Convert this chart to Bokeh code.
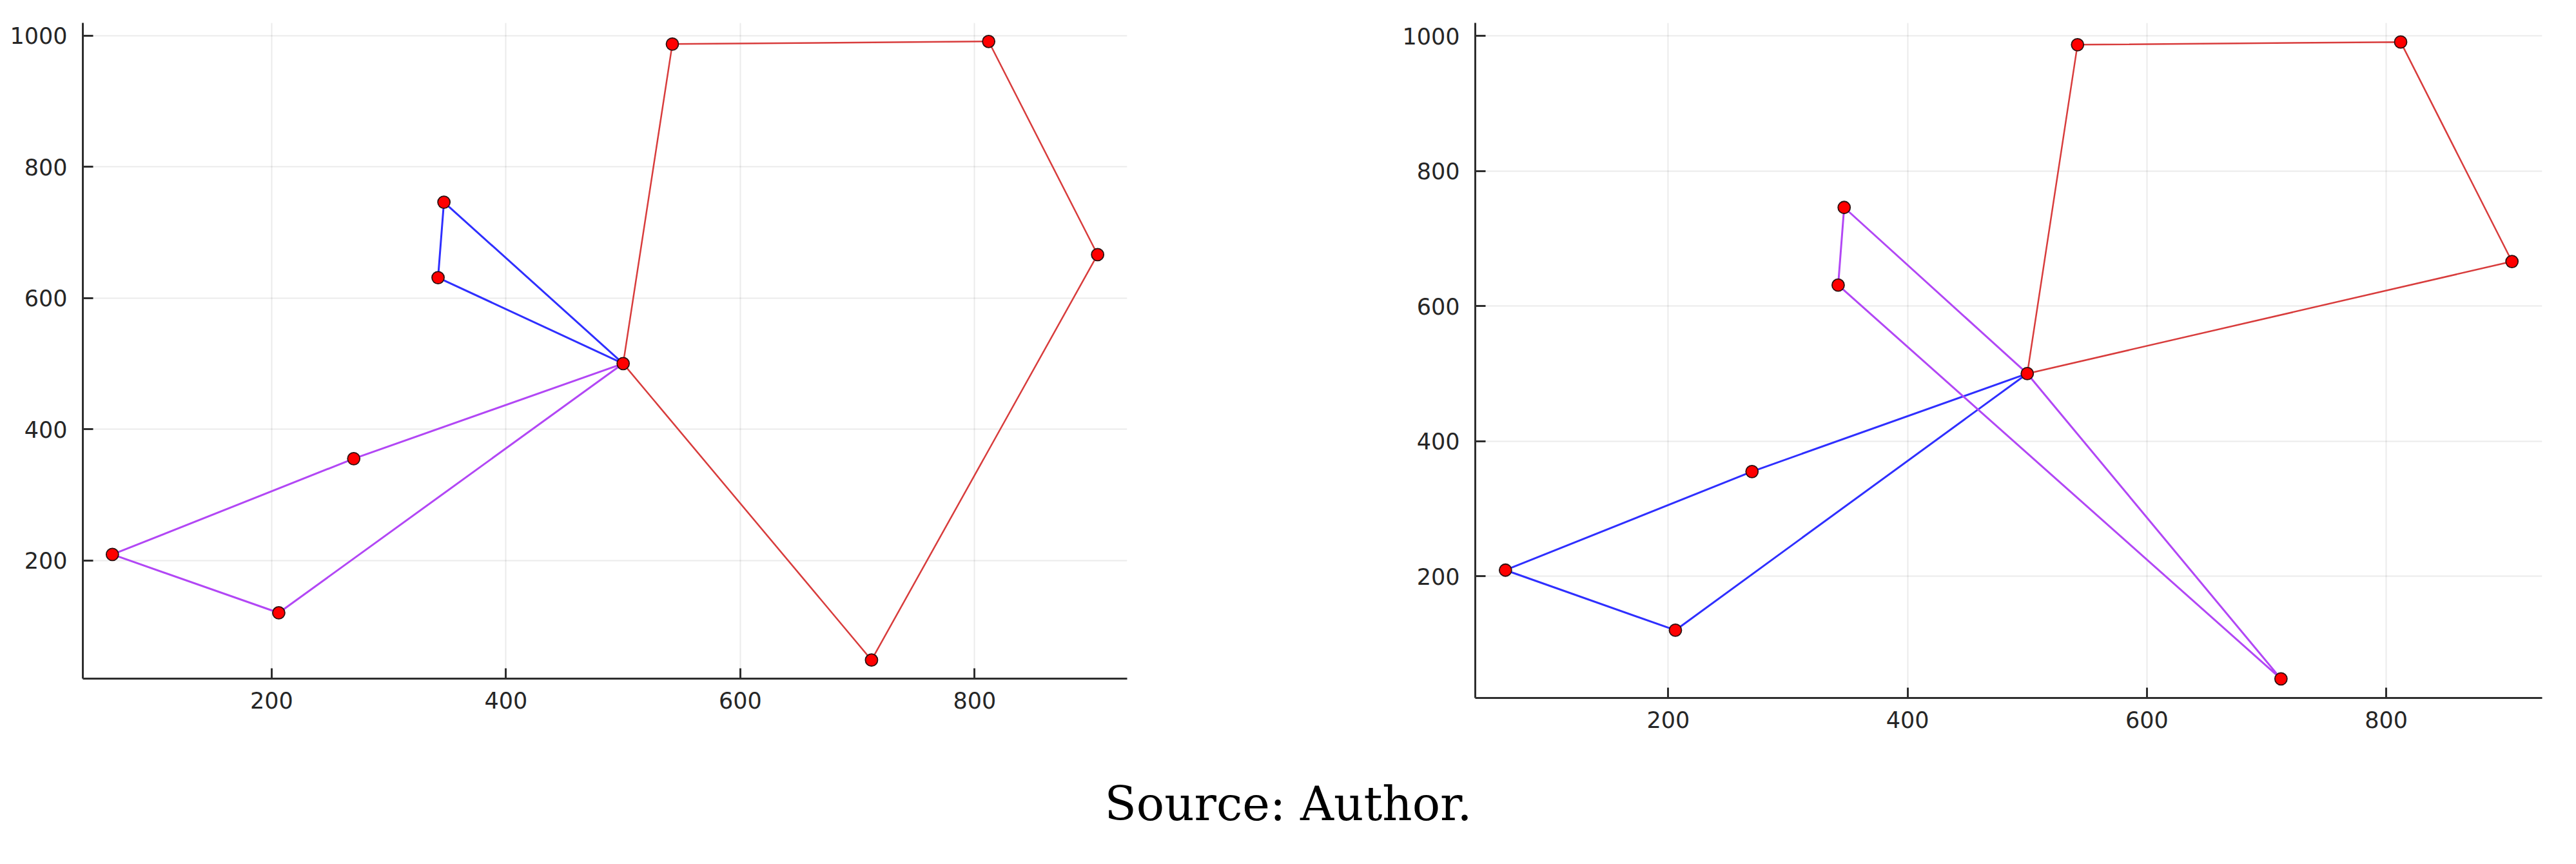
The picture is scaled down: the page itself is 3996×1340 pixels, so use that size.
from bokeh.plotting import figure
from bokeh.models import FixedTicker, Range1d, Label
from bokeh.layouts import row, column
from bokeh.embed import file_html
from bokeh.resources import INLINE

# ---- data: node coordinates (index 0 is the depot) ----
node_x = [500, 542, 812, 905, 712, 342, 347, 270, 64, 206]
node_y = [500, 987, 991, 666, 48, 631, 746, 355, 209, 120]

# routes as node-index sequences
left_red = [0, 1, 2, 3, 4, 0]
left_blue = [0, 5, 6, 0]
left_purple = [0, 7, 8, 9, 0]

right_red = [0, 1, 2, 3, 0]
right_blue = [0, 7, 8, 9, 0]
right_purple = [0, 6, 5, 4, 0]

x_ticks = [200, 400, 600, 800]
y_ticks = [200, 400, 600, 800, 1000]

caption = "Source: Author."

RED = "#d83c3c"
BLUE = "#2f2fff"
PURPLE = "#b247f5"


def padded(vals, frac=0.03):
    lo, hi = min(vals), max(vals)
    d = (hi - lo) * frac
    return lo - d, hi + d


def make_fig(frame_w, frame_h, top, right, bottom, routes):
    x0, x1 = padded(node_x)
    y0, y1 = padded(node_y)
    p = figure(width=128 + frame_w + right, height=top + frame_h + bottom,
               x_range=Range1d(x0, x1), y_range=Range1d(y0, y1),
               output_backend="svg", toolbar_location=None, title=None,
               min_border_left=128, min_border_right=right,
               min_border_top=top, min_border_bottom=bottom)
    p.outline_line_color = None
    p.background_fill_color = "white"
    p.border_fill_color = "white"
    for ax in (p.xaxis[0], p.yaxis[0]):
        ax.axis_line_color = "#2e2e2e"
        ax.axis_line_width = 3
        ax.major_tick_line_color = "#2e2e2e"
        ax.major_tick_line_width = 3
        ax.major_tick_in = 16
        ax.major_tick_out = 0
        ax.minor_tick_line_color = None
        ax.major_label_text_font = "DejaVu Sans"
        ax.major_label_text_font_size = "35px"
        ax.major_label_text_color = "#262626"
    p.xaxis[0].ticker = FixedTicker(ticks=x_ticks)
    p.yaxis[0].ticker = FixedTicker(ticks=y_ticks)
    p.xaxis[0].major_label_standoff = 20
    p.yaxis[0].major_label_standoff = 24
    for g in (p.xgrid[0], p.ygrid[0]):
        g.grid_line_color = "#000000"
        g.grid_line_alpha = 0.08
        g.grid_line_width = 2
    p.xgrid[0].ticker = FixedTicker(ticks=x_ticks)
    p.ygrid[0].ticker = FixedTicker(ticks=y_ticks)

    for idx, color, lw in routes:
        p.line([node_x[i] for i in idx], [node_y[i] for i in idx],
               line_color=color, line_width=lw)
    p.scatter(node_x, node_y, size=19, fill_color="#ff0000",
              line_color="#2a1010", line_width=1.8)
    return p


p1 = make_fig(1620, 1024, 28, 412, 60,
              [(left_red, RED, 2.5), (left_blue, BLUE, 3), (left_purple, PURPLE, 3)])
p2 = make_fig(1655, 1047, 35, 30, 60,
              [(right_red, RED, 2.5), (right_blue, BLUE, 3), (right_purple, PURPLE, 3)])

p3 = figure(width=3980, height=180, x_range=Range1d(0, 3980), y_range=Range1d(0, 180),
            output_backend="svg", toolbar_location=None, title=None,
            x_axis_type=None, y_axis_type=None,
            min_border_left=0, min_border_right=0, min_border_top=0, min_border_bottom=0)
p3.outline_line_color = None
p3.add_layout(Label(x=1998, y=76, text=caption, text_font="DejaVu Serif",
                    text_font_size="72px", text_align="center",
                    text_baseline="alphabetic", text_color="black"))

layout = column(row(p1, p2), p3)

open("out.html", "w").write(file_html(layout, INLINE))
